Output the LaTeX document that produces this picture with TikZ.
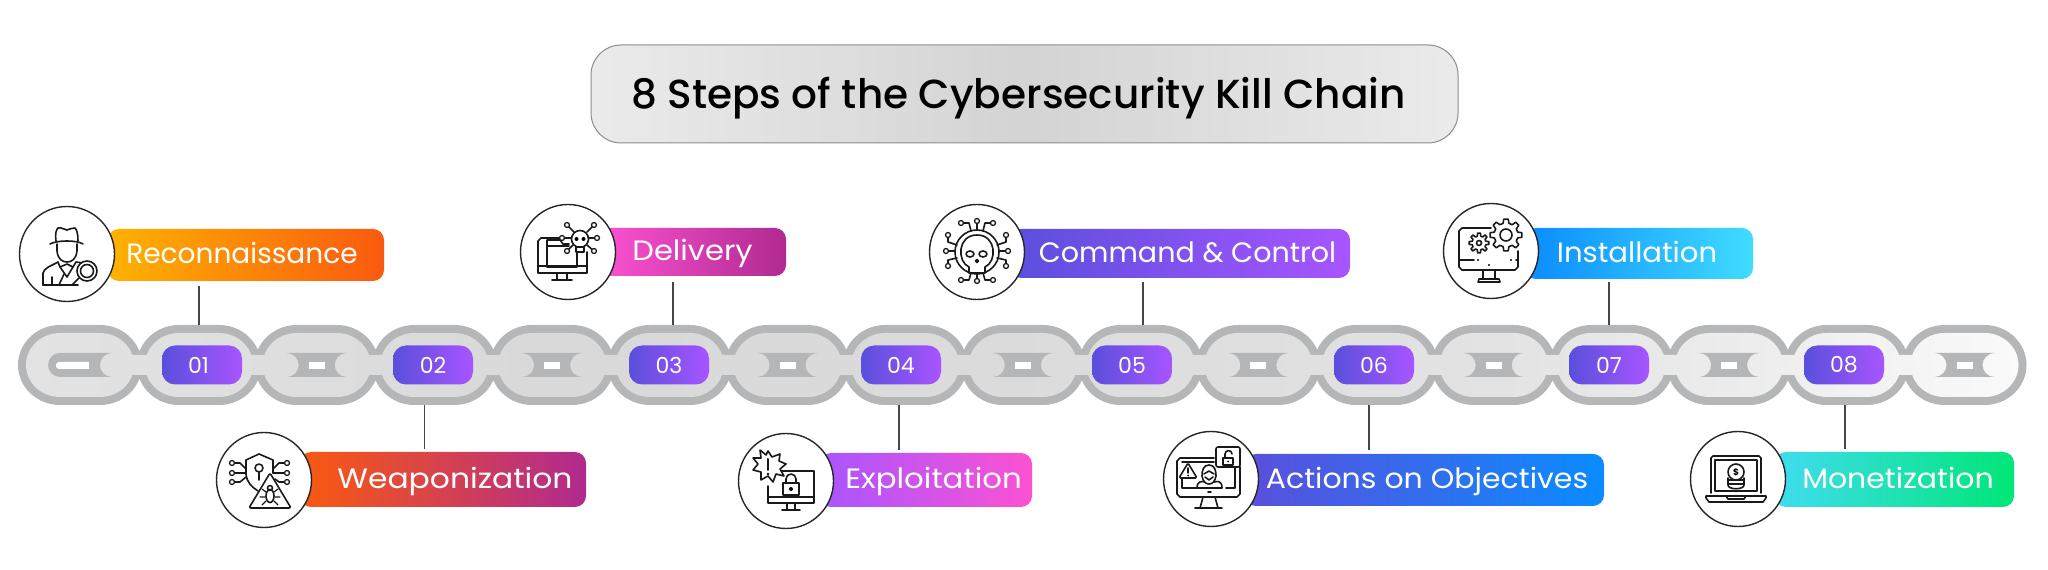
\documentclass[tikz,border=0pt]{standalone}
\usepackage{fontspec}
\usepackage{graphicx}
\setmainfont{Poppins}
\newfontfamily\titlefont{Poppins Medium}
\usepackage{tikz}
\usetikzlibrary{positioning, shapes, arrows.meta}
\definecolor{ChainGrey}{RGB}{181, 182, 184}
\definecolor{StemGrey}{RGB}{70, 70, 72}
\definecolor{PillBlue}{RGB}{90, 79, 220}
\definecolor{PillViolet}{RGB}{168, 85, 255}
\definecolor{AmberTone}{RGB}{255, 179, 0}
\definecolor{OrangeTone}{RGB}{250, 90, 15}
\definecolor{PlumTone}{RGB}{176, 42, 144}
\definecolor{PinkTone}{RGB}{252, 82, 210}
\definecolor{AzureTone}{RGB}{10, 140, 255}
\definecolor{SkyTone}{RGB}{64, 220, 255}
\definecolor{AquaTone}{RGB}{64, 220, 240}
\definecolor{MintTone}{RGB}{0, 230, 118}
\pgfdeclarehorizontalshading{chainfill}{100bp}{
  color(0bp)=(black!11!white); color(25bp)=(black!11!white);
  color(38bp)=(black!15!white); color(50bp)=(black!14!white);
  color(62bp)=(black!11!white); color(70bp)=(black!6!white);
  color(75bp)=(black!2!white); color(100bp)=(black!2!white)}
\pgfdeclarehorizontalshading{titlefill}{100bp}{
  color(0bp)=(black!8!white); color(25bp)=(black!8!white);
  color(50bp)=(black!17!white);
  color(75bp)=(black!8!white); color(100bp)=(black!8!white)}
\tikzset{
  labelbar/.style={rectangle, rounded corners=11pt, inner sep=0pt},
  labeltext/.style={text=white, font=\fontsize{28}{28}\selectfont, text height=24pt, text depth=6pt, inner sep=0pt},
  numpill/.style={rectangle, rounded corners=13pt, minimum width=80pt, minimum height=39pt, inner sep=0pt,
    left color=PillBlue, right color=PillViolet, text=white, font=\fontsize{22}{22}\selectfont},
  iconring/.style={circle, draw=black!85, line width=1.4pt, fill=white, minimum size=95pt, inner sep=0pt},
  stem/.style={draw=StemGrey, line width=1.6pt},
  icon/.style={draw=black!90, line width=1.6pt, line cap=round, line join=round}
}
\newcommand{\gearmark}[5]{% x, y, root radius, tip radius, hole
  \begin{scope}[shift={(#1,#2)}]
    \draw[icon, fill=white] (-14:#3) \foreach \a in {0,45,...,315} { -- (\a-14:#3) -- (\a-8:#4) -- (\a+8:#4) -- (\a+14:#3)} -- cycle;
    \draw[icon] (0,0) circle (#5);
  \end{scope}
}
\newcommand{\padmark}[2]{\draw[icon, fill=white, line width=1.3pt] (#1,#2) circle (2.5);}
\begin{document}
\begin{tikzpicture}[x=1pt, y=1pt]
  \useasboundingbox (0,0) rectangle (2048,570);

  % Title
  \node[rectangle, rounded corners=30pt, draw=black!45, line width=1pt, minimum width=867pt, minimum height=98pt, inner sep=0pt,
    shading=titlefill] (titlebox) at (1024.5,476) {};
  \node[font=\titlefont\fontsize{40.6}{41}\selectfont, inner sep=0pt, anchor=base] (titletext) at (1018.5,461) {8 Steps of the Cybersecurity Kill Chain};

  % Chain
  \fill[ChainGrey] \foreach \c in {80,199,316.7,434.4,552.1,669.8,787.5,905.2,1022.9,1140.6,1258.3,1376,1493.7,1611.4,1729.1,1846.8,1964.5}
    {(\c-20,245) -- (\c+20,245) arc[start angle=90, end angle=-90, x radius=42, y radius=40] -- (\c-20,165) arc[start angle=270, end angle=90, x radius=42, y radius=40] -- cycle};
  \shade[shading=chainfill] \foreach \c in {80,199,316.7,434.4,552.1,669.8,787.5,905.2,1022.9,1140.6,1258.3,1376,1493.7,1611.4,1729.1,1846.8,1964.5}
    {(\c-20,237) -- (\c+20,237) arc[start angle=90, end angle=-90, x radius=34, y radius=32] -- (\c-20,173) arc[start angle=270, end angle=90, x radius=34, y radius=32] -- cycle}
    (80,195) rectangle (1964.5,215);

  % Hidden link parts
  \fill[ChainGrey] (112,217) arc[start angle=90, end angle=270, radius=12] -- (60,193) arc[start angle=270, end angle=90, radius=12] -- cycle;
  \fill[white, rounded corners=3pt] (56,201) rectangle (92,208);
  \fill[ChainGrey] (89,201) rectangle (92,208);
  \foreach \c in {316.7,552.1,787.5,1022.9,1258.3,1493.7,1729.1,1964.5} {
    \fill[ChainGrey] (\c+30,217) arc[start angle=90, end angle=270, radius=12] -- (\c-30,193) arc[start angle=-90, end angle=90, radius=12] -- cycle;
    \fill[white] (\c-8,201) rectangle (\c+8,208);
  }

  % Numbers
  \node[numpill] (pillone) at (202,205) {01\hspace*{7pt}};
  \node[numpill] (pilltwo) at (433,205) {02};
  \node[numpill] (pillthree) at (669,205) {03};
  \node[numpill] (pillfour) at (901,205) {04};
  \node[numpill] (pillfive) at (1132,205) {05};
  \node[numpill] (pillsix) at (1374,205) {06};
  \node[numpill] (pillseven) at (1609,205) {07};
  \node[numpill] (pilleight) at (1844,205) {08};

  % Label bars
  \node[labelbar, minimum width=276pt, minimum height=52pt, left color=AmberTone, right color=OrangeTone] (reconbar) at (246,315) {};
  \node[labelbar, minimum width=286pt, minimum height=55pt, left color=OrangeTone, right color=PlumTone] (weaponbar) at (443,90.5) {};
  \node[labelbar, minimum width=186pt, minimum height=48pt, left color=PinkTone, right color=PlumTone] (deliverybar) at (693,318) {};
  \node[labelbar, minimum width=340pt, minimum height=49pt, left color=PillBlue, right color=PillViolet] (commandbar) at (1180,316.5) {};
  \node[labelbar, minimum width=212pt, minimum height=54pt, left color=PillViolet, right color=PinkTone] (exploitbar) at (926,90) {};
  \node[labelbar, minimum width=359pt, minimum height=52pt, left color=PillBlue, right color=AzureTone] (actionsbar) at (1424.5,90) {};
  \node[labelbar, minimum width=228pt, minimum height=51pt, left color=AzureTone, right color=SkyTone] (installbar) at (1639,316.5) {};
  \node[labelbar, minimum width=239pt, minimum height=55pt, left color=AquaTone, right color=MintTone] (monetbar) at (1894.5,90.5) {};

  \node[labeltext] (recontext) at (242,315) {Reconnaissance};
  \node[labeltext] (weapontext) at (455,90.5) {\scalebox{1.12}[1]{Weaponization}};
  \node[labeltext] (deliverytext) at (692.5,318) {\scalebox{1.09}[1]{Delivery}};
  \node[labeltext] (commandtext) at (1187.5,316.5) {\scalebox{1.02}[1]{Command \& Control}};
  \node[labeltext] (exploittext) at (933.5,90) {\scalebox{1.1}[1]{Exploitation}};
  \node[labeltext] (actionstext) at (1427,90) {\scalebox{1.07}[1]{Actions on Objectives}};
  \node[labeltext] (installtext) at (1637,316.5) {\scalebox{1.04}[1]{Installation}};
  \node[labeltext] (monettext) at (1898,90.5) {\scalebox{1.07}[1]{Monetization}};

  % Stems
  \coordinate (linkone) at (199,245);
  \coordinate (linktwo) at (424.5,165);
  \coordinate (linkthree) at (673,245);
  \coordinate (linkfour) at (899,165);
  \coordinate (linkfive) at (1143,245);
  \coordinate (linksix) at (1369,165);
  \coordinate (linkseven) at (1609,245);
  \coordinate (linkeight) at (1845,165);
  \draw[stem, shorten <=5pt] (reconbar.south -| linkone) -- (linkone);
  \draw[stem, shorten <=3pt] (weaponbar.north -| linktwo) -- (linktwo);
  \draw[stem, shorten <=6pt] (deliverybar.south -| linkthree) -- (linkthree);
  \draw[stem, shorten <=4pt] (commandbar.south -| linkfive) -- (linkfive);
  \draw[stem, shorten <=3pt] (exploitbar.north -| linkfour) -- (linkfour);
  \draw[stem, shorten <=4pt] (actionsbar.north -| linksix) -- (linksix);
  \draw[stem, shorten <=3pt] (installbar.south -| linkseven) -- (linkseven);
  \draw[stem, shorten <=3pt] (monetbar.north -| linkeight) -- (linkeight);

  % Icon rings
  \node[iconring] (reconring) at (67,316) {};
  \node[iconring] (weaponring) at (264,90) {};
  \node[iconring] (deliveryring) at (568,318) {};
  \node[iconring] (commandring) at (977,318) {};
  \node[iconring] (exploitring) at (786,89) {};
  \node[iconring] (actionsring) at (1211,91) {};
  \node[iconring] (installring) at (1491,319) {};
  \node[iconring] (monetring) at (1738,91) {};

  % Detective
  \begin{scope}[shift={(reconring.center)}]
    \draw[icon] (-11,13) .. controls (-12,20) and (-11,24) .. (-9,26) .. controls (-5,27) and (-3,24) .. (0,24) .. controls (3,24) and (5,27) .. (8,26) .. controls (10,24) and (11,20) .. (11,13);
    \draw[icon] (-17,10) .. controls (-10,14) and (10,14) .. (16,10);
    \draw[icon] (-10,10) -- (-10,3) .. controls (-9,-6) and (-4,-8) .. (0,-8) .. controls (4,-8) and (9,-6) .. (10,3) -- (10,10);
    \draw[icon] (-24,-31) -- (-24,-19) .. controls (-23,-14) and (-16,-12) .. (-9,-8) -- (-7,-13) -- (0,-23) -- (6,-13) -- (9,-8) -- (16,-9);
    \draw[icon] (-24,-31) -- (11,-31);
    \draw[icon] (-15,-31) -- (-15,-23);
    \draw[icon] (-7,-13) -- (0,-10) -- (6,-13);
    \draw[icon] (-3,-20) -- (-8,-31);
    \draw[icon, fill=white] (20,-17) circle (10);
    \draw[icon] (20,-17) circle (6.5);
    \draw[icon] (12,-24) -- (5,-31);
  \end{scope}

  % Shield and bug
  \begin{scope}[shift={(weaponring.center)}]
    \draw[icon] (-5,26) -- (-18,20) -- (-18,6) .. controls (-17,-3) and (-12,-7) .. (-6,-11);
    \draw[icon] (-5,26) -- (9,20) -- (9,7);
    \draw[icon] (-5,12) circle (4);
    \draw[icon] (-5,8) -- (-5,0);
    \draw[icon, fill=white, rounded corners=2pt] (6,7) -- (27,-28) -- (-15,-28) -- cycle;
    \draw[icon] (6,-16) ellipse (4 and 6.5);
    \draw[icon] (6,-8) circle (2.5);
    \draw[icon, line width=1.2pt] (2,-12) -- (-2,-9) (10,-12) -- (14,-9) (1,-17) -- (-4,-17) (11,-17) -- (16,-17) (2,-21) -- (-2,-25) (10,-21) -- (14,-25);
    \draw[icon] (-29,17) -- (-24,17) -- (-18,11) (-29,7) -- (-18,7) (-29,-2) -- (-24,-2) -- (-18,3);
    \draw[icon] (20,17) -- (15,17) -- (9,11) (20,7) -- (9,7) (20,-2) -- (15,-2) -- (11,1);
    \foreach \y in {17,7,-2} {\padmark{-32}{\y} \padmark{23}{\y}}
  \end{scope}

  % Monitor with folder and skull
  \begin{scope}[shift={(deliveryring.center)}]
    \draw[icon] (2,14) -- (-27,14) -- (-30,11) -- (-30,-21) -- (19,-21) -- (19,0);
    \draw[icon] (-30,-14) -- (19,-14);
    \draw[icon] (-11,-21) -- (-11,-28) (-1,-21) -- (-1,-28) (-16,-28) -- (4,-28);
    \draw[icon] (9,0) -- (9,-15) -- (-21,-15) -- (-21,12) -- (-8,12) -- (-5,8) -- (1,8);
    \draw[icon] (-21,6) -- (1,6);
    \draw[icon, fill=white] (12,13) circle (8.5);
    \draw[icon, fill=white] (8,5) rectangle (16,0);
    \fill (8.5,13) circle (2) (15.5,13) circle (2);
    \draw[icon] (-1,27) -- (6,20) (26,27) -- (19,20) (29,14) -- (21,14) (26,1) -- (19,7) (-1,1) -- (5,7) (-8,14) -- (3,14);
    \padmark{-1}{27} \padmark{26}{27} \padmark{29}{14} \padmark{26}{1} \padmark{-1}{1} \padmark{-6}{14}
  \end{scope}

  % Skull in circuit ring
  \begin{scope}[shift={(commandring.center)}]
    \draw[icon] (0,0) circle (22);
    \draw[icon] (-8,-21) -- (-8,-15) .. controls (-20,-10) and (-20,17) .. (0,17) .. controls (20,17) and (20,-10) .. (8,-15) -- (8,-21) -- cycle;
    \draw[icon] (-7,-2) ellipse (4 and 3) (6,-2) ellipse (4 and 3);
    \draw[icon] (0,-9) circle (1.6);
    \draw[icon] (0,22) -- (0,29) (0,-22) -- (0,-27);
    \draw[icon] (-13,29) -- (-8,29) -- (-6,21) (13,29) -- (8,29) -- (6,21) (-13,-28) -- (-8,-28) -- (-6,-21) (13,-28) -- (8,-28) -- (6,-21);
    \draw[icon] (-22,1) -- (-29,1) (22,1) -- (29,1);
    \draw[icon] (-29,14) -- (-29,10) -- (-20,7) (29,14) -- (29,10) -- (20,7) (-29,-11) -- (-29,-8) -- (-20,-6) (29,-11) -- (29,-8) -- (20,-6);
    \foreach \x/\y in {0/31,-16/29,16/29,0/-29,-16/-28,16/-28,-31/1,31/1,-29/17,29/17,-29/-14,29/-14} {\padmark{\x}{\y}}
  \end{scope}

  % Burst and locked monitor
  \begin{scope}[shift={(exploitring.center)}]
    \draw[icon] (-6,10) -- (28,10) -- (28,-22) -- (-18,-22) -- (-18,-5);
    \draw[icon] (-18,-16) -- (28,-16);
    \draw[icon] (1,-22) -- (1,-28) (9,-22) -- (9,-28) (-4,-29) -- (14,-29);
    \draw[icon, fill=white] (-18,30) -- (-14,24) -- (-6,27) -- (-7,20) -- (0,17) -- (-6,12) -- (-2,5) -- (-10,7) -- (-13,-1) -- (-18,5) -- (-25,1) -- (-25,9) -- (-33,11) -- (-28,17) -- (-33,23) -- (-25,23) -- (-26,31) -- (-20,26) -- cycle;
    \draw[icon, line width=2pt] (-18,22) -- (-18,11);
    \fill (-18,7) circle (1.3);
    \draw[icon, fill=white] (-3,-14) rectangle (13,-2);
    \draw[icon] (0,-2) -- (0,2) arc[start angle=180, end angle=0, radius=5] -- (10,-2);
    \fill (5,-8) circle (2);
  \end{scope}

  % Hacker on monitor
  \begin{scope}[shift={(actionsring.center)}]
    \draw[icon] (3,21) -- (-31,21) -- (-34,18) -- (-34,-15) -- (-31,-18) -- (26,-18) -- (29,-15) -- (29,12);
    \draw[icon] (-29,17) -- (3,17);
    \draw[icon] (-29,1) -- (-29,-9) -- (-14,-9) (15,-9) -- (24,-9) -- (24,11);
    \draw[icon] (-8,-18) -- (-11,-29) (4,-18) -- (7,-29) (-16,-29) -- (11,-29);
    \draw[icon] (-3,-13) -- (0,-13);
    \draw[icon, fill=white, rounded corners=1.5pt] (-23,16) -- (-14,1) -- (-32,1) -- cycle;
    \draw[icon, line width=1.4pt] (-23,11) -- (-23,6);
    \fill (-23,3.5) circle (1);
    \draw[icon, fill=white, rounded corners=2pt] (5,32) -- (29,32) -- (29,12) -- (5,12) -- cycle;
    \draw[icon, fill=white] (12,14) rectangle (22,21);
    \draw[icon] (14,21) -- (14,25) arc[start angle=180, end angle=0, radius=3.5];
    \fill (17,17.5) circle (1);
    \draw[icon, fill=white] (-14,-9) .. controls (-14,-2) and (-9,-2) .. (-6,-3) -- (3,-3) .. controls (7,-2) and (11,-2) .. (11,-9) -- cycle;
    \draw[icon, fill=white] (-2,14) .. controls (-8,14) and (-9,8) .. (-9,3) .. controls (-8,-3) and (-5,-5) .. (-2,-5) .. controls (1,-5) and (4,-3) .. (5,3) .. controls (5,8) and (4,14) .. (-2,14) -- cycle;
    \draw[icon] (-7,5) -- (-2,8) -- (3,5) (-6,2) -- (-2,-1) -- (2,2);
  \end{scope}

  % Gears on monitor
  \begin{scope}[shift={(installring.center)}]
    \draw[icon] (0,23) -- (-29,23) -- (-32,20) -- (-32,-16) -- (-29,-19) -- (24,-19) -- (27,-16) -- (27,0);
    \draw[icon] (-32,-9) -- (-17,-9) (27,-9) -- (25,-9);
    \draw[icon] (-8,-19) -- (-8,-28) (4,-19) -- (4,-28);
    \draw[icon] (-12,-28) -- (8,-28) -- (9,-31) -- (-13,-31) -- cycle;
    \fill (-2,-14) circle (1.2) (-13,-9) circle (1.2) (20,-9) circle (1.2);
    \gearmark{15}{16}{12}{16}{6}
    \gearmark{-12}{8}{7}{10}{2.5}
  \end{scope}

  % Laptop with coins
  \begin{scope}[shift={(monetring.center)}]
    \draw[icon] (-27,-14) -- (-27,21) -- (-25,23) -- (21,23) -- (23,21) -- (23,-14);
    \draw[icon] (-23,-12) rectangle (19,19);
    \draw[icon] (-32,-17) -- (28,-17) -- (28,-19) -- (25,-23) -- (-29,-23) -- (-32,-19) -- cycle;
    \draw[icon] (-12,-17) -- (-10,-20) -- (6,-20) -- (8,-17);
    \draw[icon] (-10,1) -- (-10,-6) .. controls (-10,-11) and (6,-11) .. (6,-6) -- (6,1);
    \draw[icon, line width=1.2pt] (-10,-1) -- (6,-1) (-10,-5) -- (6,-5);
    \draw[icon, fill=white] (-2,7) circle (8);
    \node[font=\fontsize{9}{9}\selectfont\bfseries, inner sep=0pt] (coinsign) at (-2,7) {\$};
  \end{scope}
\end{tikzpicture}
\end{document}
